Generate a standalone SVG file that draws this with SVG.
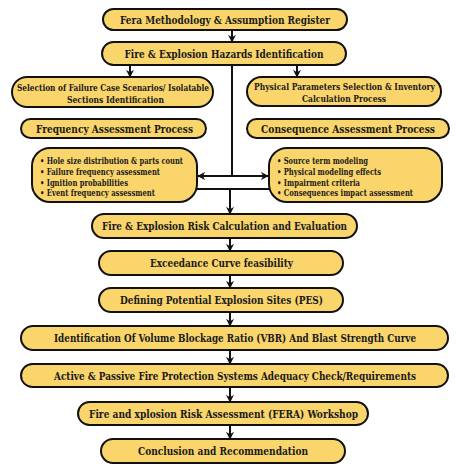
<svg xmlns="http://www.w3.org/2000/svg" width="474" height="474" viewBox="0 0 474 474">
<style>
.box{fill:#F9D56B;stroke:#111;stroke-width:2}
text{font-family:"DejaVu Serif Condensed","DejaVu Serif","Liberation Serif",serif;font-weight:bold;fill:#1a1a1a}
.t{font-size:11.5px;text-anchor:middle}
.s{font-size:10px;text-anchor:middle}
.b{font-size:9.5px}
.c{fill:none;stroke:#111;stroke-width:2}
</style>
<defs>
<marker id="ah" viewBox="0 0 10 10" refX="9" refY="5" markerWidth="4" markerHeight="4" orient="auto-start-reverse" markerUnits="strokeWidth">
<path d="M0,0 L10,5 L0,10 L3,5 z" fill="#111"/>
</marker>
</defs>
<rect width="474" height="474" fill="#fff"/>
<g id="connectors">
<line class="c" x1="232" y1="30" x2="232" y2="42" marker-end="url(#ah)"/>
<line class="c" x1="130" y1="65" x2="130" y2="77" marker-end="url(#ah)"/>
<line class="c" x1="297" y1="65" x2="297" y2="77" marker-end="url(#ah)"/>
<line class="c" x1="232" y1="65" x2="232" y2="176"/>
<line class="c" x1="198" y1="176" x2="268" y2="176" marker-start="url(#ah)" marker-end="url(#ah)"/>
<line class="c" x1="197" y1="189" x2="269" y2="189"/>
<line class="c" x1="230" y1="189" x2="230" y2="214" marker-end="url(#ah)"/>
<line class="c" x1="230" y1="238" x2="230" y2="251" marker-end="url(#ah)"/>
<line class="c" x1="230" y1="275" x2="230" y2="288" marker-end="url(#ah)"/>
<line class="c" x1="230" y1="312" x2="230" y2="326" marker-end="url(#ah)"/>
<line class="c" x1="230" y1="350" x2="230" y2="364" marker-end="url(#ah)"/>
<line class="c" x1="230" y1="387" x2="230" y2="402" marker-end="url(#ah)"/>
<line class="c" x1="230" y1="425" x2="230" y2="439" marker-end="url(#ah)"/>
</g>
<g id="n1"><rect class="box" x="103" y="9" width="244" height="21" rx="10.5"/><text class="t" x="225" y="23.6" textLength="210" lengthAdjust="spacingAndGlyphs">Fera Methodology &amp; Assumption Register</text></g>
<g id="n2"><rect class="box" x="102" y="42" width="244" height="23" rx="11.5"/><text class="t" x="224" y="57.6" textLength="199" lengthAdjust="spacingAndGlyphs">Fire &amp; Explosion Hazards Identification</text></g>
<g id="n3"><rect class="box" x="12" y="77" width="201" height="30" rx="15"/><text class="s" x="113" y="90.5" textLength="192" lengthAdjust="spacingAndGlyphs">Selection of Failure Case Scenarios/ Isolatable</text><text class="s" x="115.5" y="102.5" textLength="97" lengthAdjust="spacingAndGlyphs">Sections Identification</text></g>
<g id="n4"><rect class="box" x="21" y="119" width="185" height="19" rx="9.5"/><text class="t" x="114.5" y="132.6" textLength="157" lengthAdjust="spacingAndGlyphs">Frequency Assessment Process</text></g>
<g id="n5"><rect class="box" x="247" y="77" width="194" height="29" rx="14.5"/><text class="s" x="344.5" y="89.5" textLength="181" lengthAdjust="spacingAndGlyphs">Physical Parameters Selection &amp; Inventory</text><text class="s" x="344" y="101.5" textLength="84" lengthAdjust="spacingAndGlyphs">Calculation Process</text></g>
<g id="n6"><rect class="box" x="247" y="119" width="202" height="19" rx="9.5"/><text class="t" x="348" y="132.6" textLength="174" lengthAdjust="spacingAndGlyphs">Consequence  Assessment Process</text></g>
<g id="n7"><rect class="box" x="32" y="148" width="165" height="54" rx="18"/>
<text class="b" x="40" y="163.5" textLength="143" lengthAdjust="spacingAndGlyphs">• Hole size distribution &amp; parts count</text>
<text class="b" x="40" y="174.5" textLength="120" lengthAdjust="spacingAndGlyphs">• Failure frequency assessment</text>
<text class="b" x="40" y="185.5" textLength="88" lengthAdjust="spacingAndGlyphs">• Ignition probabilities</text>
<text class="b" x="40" y="195.5" textLength="115" lengthAdjust="spacingAndGlyphs">• Event frequency assessment</text></g>
<g id="n8"><rect class="box" x="269" y="148" width="173" height="54" rx="18"/>
<text class="b" x="277" y="163.5" textLength="91" lengthAdjust="spacingAndGlyphs">• Source term modeling</text>
<text class="b" x="277" y="174.5" textLength="104" lengthAdjust="spacingAndGlyphs">• Physical modeling effects</text>
<text class="b" x="277" y="185.5" textLength="83" lengthAdjust="spacingAndGlyphs">• Impairment criteria</text>
<text class="b" x="277" y="195.5" textLength="136" lengthAdjust="spacingAndGlyphs">• Consequences impact assessment</text></g>
<g id="n9"><rect class="box" x="92" y="214" width="265" height="24" rx="12"/><text class="t" x="224.5" y="230.3" textLength="245" lengthAdjust="spacingAndGlyphs">Fire &amp; Explosion Risk Calculation and Evaluation</text></g>
<g id="n10"><rect class="box" x="99" y="251" width="244" height="24" rx="12"/><text class="t" x="221.5" y="267.1" textLength="143" lengthAdjust="spacingAndGlyphs">Exceedance Curve feasibility</text></g>
<g id="n11"><rect class="box" x="99" y="288" width="244" height="24" rx="12"/><text class="t" x="221.5" y="304.3" textLength="203" lengthAdjust="spacingAndGlyphs">Defining Potential Explosion Sites (PES)</text></g>
<g id="n12"><rect class="box" x="21" y="326" width="427" height="24" rx="12"/><text class="t" x="235" y="342" font-size="10.8" textLength="362" lengthAdjust="spacingAndGlyphs">Identification Of Volume Blockage Ratio (VBR) And Blast Strength Curve</text></g>
<g id="n13"><rect class="box" x="21" y="364" width="427" height="23" rx="11.5"/><text class="t" x="235" y="379.6" font-size="11" textLength="362" lengthAdjust="spacingAndGlyphs">Active &amp; Passive Fire Protection Systems Adequacy Check/Requirements</text></g>
<g id="n14"><rect class="box" x="78" y="402" width="290" height="23" rx="11.5"/><text class="t" x="223.5" y="417.8" textLength="269" lengthAdjust="spacingAndGlyphs">Fire and xplosion Risk Assessment (FERA) Workshop</text></g>
<g id="n15"><rect class="box" x="101" y="439" width="244" height="24" rx="12"/><text class="t" x="223" y="455.3" textLength="170" lengthAdjust="spacingAndGlyphs">Conclusion and Recommendation</text></g>
</svg>
